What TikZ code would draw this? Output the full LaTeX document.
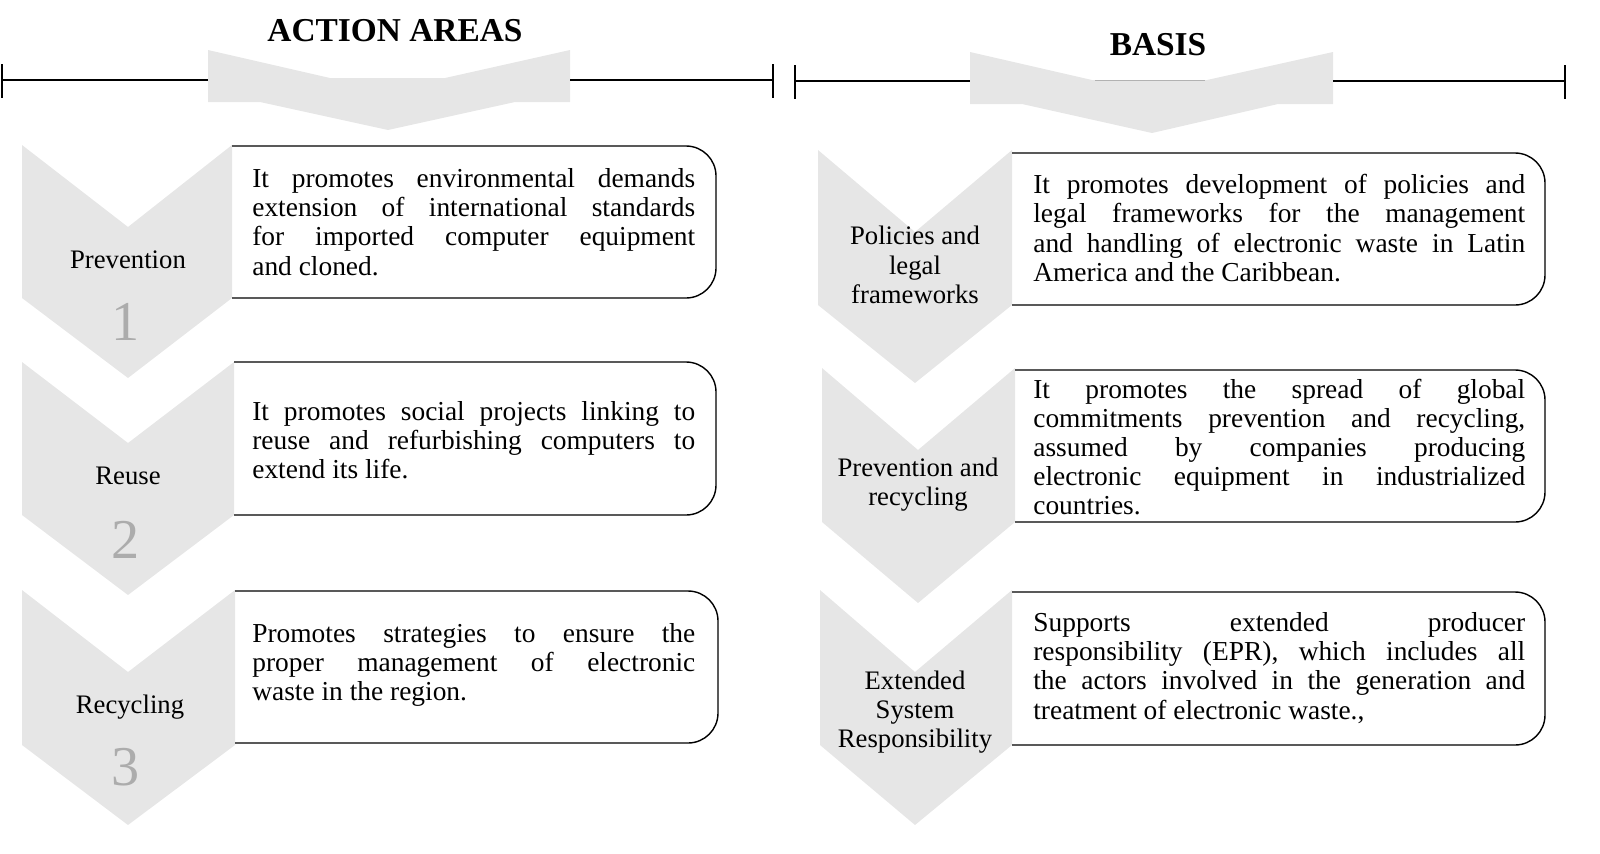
\documentclass[tikz,border=0pt]{standalone}
\usepackage{fontspec}
\setmainfont{Liberation Serif}
\usetikzlibrary{positioning}
\definecolor{chevgray}{RGB}{230,230,230}
\tikzset{
  chev/.style={fill=chevgray,draw=none},
  descbox/.style={draw=black,line width=0.8pt,rounded corners=0.6cm},
  desctext/.style={anchor=west,align=justify,font=\fontsize{15.6}{16.6}\selectfont,inner sep=0pt},
  chevlabel/.style={align=center,font=\fontsize{15.2}{16.6}\selectfont,inner sep=0pt},
  bignum/.style={font=\fontsize{32}{32}\selectfont,text=gray!65,inner sep=0pt},
  header/.style={font=\bfseries\fontsize{19}{19}\selectfont,inner sep=0pt},
  hline/.style={line width=1.3pt}
}
\begin{document}
\begin{tikzpicture}[x=0.02cm,y=-0.02cm]
  % Header left
  \fill[chev] (208,50) -- (330,78) -- (445,78) -- (570,50) -- (570,102) -- (515,102) -- (388,130) -- (260,102) -- (208,102) -- cycle;
  \node[header] (actionhead) at (395,31) {ACTION AREAS};
  \coordinate (la) at (2,80); \coordinate (lb) at (208,80);
  \coordinate (lc) at (570,80); \coordinate (ld) at (773,80);
  \draw[hline] (la) -- (lb);
  \draw[hline] (lc) -- (ld);
  \draw[hline] (2,64) -- (2,98);
  \draw[hline] (773,64) -- (773,98);

  % Header right
  \fill[chev] (970,52) -- (1092,80) -- (1207,80) -- (1333,52) -- (1333,104) -- (1278,104) -- (1152,133) -- (1022,104) -- (970,104) -- cycle;
  \draw[gray!60,line width=0.5pt] (1095,80) -- (1205,80);
  \node[header] (basishead) at (1158,45) {BASIS};
  \coordinate (ra) at (795,81); \coordinate (rb) at (970,81);
  \coordinate (rc) at (1333,81); \coordinate (rd) at (1565,81);
  \draw[hline] (ra) -- (rb);
  \draw[hline] (rc) -- (rd);
  \draw[hline] (795,65) -- (795,99);
  \draw[hline] (1565,65) -- (1565,99);

  % Action areas chevrons
  \fill[chev] (22,145) -- (128,227) -- (232,145) -- (232,298) -- (128,378) -- (22,298) -- cycle;
  \fill[chev] (22,362) -- (128,443) -- (234,362) -- (234,515) -- (128,595) -- (22,515) -- cycle;
  \fill[chev] (22,590) -- (128,672) -- (235,590) -- (235,745) -- (128,825) -- (22,745) -- cycle;
  \node[chevlabel] (prevention) at (128,260) {Prevention};
  \node[bignum] (num1) at (126,322) {1};
  \node[chevlabel] (reuse) at (128,476) {Reuse};
  \node[bignum] (num2) at (126,540) {2};
  \node[chevlabel] (recycling) at (130,707) {Recycling};
  \node[bignum] (num3) at (126,767) {3};

  % Action areas boxes
  \draw[descbox] (232,146) -- (716,146) -- (716,298) -- (232,298);
  \draw[descbox] (234,362) -- (716,362) -- (716,515) -- (234,515);
  \draw[descbox] (235,591) -- (718,591) -- (718,743) -- (235,743);
  \node[desctext,text width=8.86cm] (prevtext) at (252,222) {It promotes environmental demands\linebreak extension of international standards\linebreak for imported computer equipment\linebreak and cloned.};
  \node[desctext,text width=8.86cm] (reusetext) at (252,440) {It promotes social projects linking to\linebreak reuse and refurbishing computers to\linebreak extend its life.};
  \node[desctext,text width=8.86cm] (recytext) at (252,665) {Promotes strategies to ensure the\linebreak proper management of electronic\linebreak waste in the region.};

  % Basis chevrons
  \fill[chev] (818,150) -- (915,232) -- (1012,150) -- (1012,305) -- (915,383) -- (818,305) -- cycle;
  \fill[chev] (822,368) -- (918,450) -- (1015,368) -- (1015,522) -- (918,603) -- (822,522) -- cycle;
  \fill[chev] (820,590) -- (915,672) -- (1012,590) -- (1012,745) -- (915,825) -- (820,745) -- cycle;
  \node[chevlabel] (policies) at (915,265) {Policies and\\legal\\frameworks};
  \node[chevlabel] (prevrecy) at (918,485) {Prevention and\\recycling};
  \node[chevlabel] (extended) at (915,712) {Extended\\System\\Responsibility};

  % Basis boxes
  \draw[descbox] (1012,153) -- (1545,153) -- (1545,305) -- (1012,305);
  \draw[descbox] (1015,370) -- (1545,370) -- (1545,522) -- (1015,522);
  \draw[descbox] (1012,592) -- (1545,592) -- (1545,745) -- (1012,745);
  \node[desctext,text width=9.84cm] (policytext) at (1033,228) {It promotes development of policies and\linebreak legal frameworks for the management\linebreak and handling of electronic waste in Latin\linebreak America and the Caribbean.};
  \node[desctext,text width=9.84cm] (prevrecytext) at (1033,447) {It promotes the spread of global\linebreak commitments prevention and recycling,\linebreak assumed by companies producing\linebreak electronic equipment in industrialized\linebreak countries.};
  \node[desctext,text width=9.84cm] (eprtext) at (1033,668) {Supports extended producer\linebreak responsibility (EPR), which includes all\linebreak the actors involved in the generation and\linebreak treatment of electronic waste.,};

  \pgfresetboundingbox
  \path[use as bounding box] (0,0) rectangle (1600,853);
\end{tikzpicture}
\end{document}
